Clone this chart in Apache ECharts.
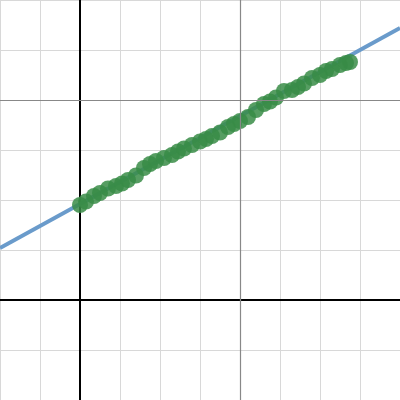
<!DOCTYPE html>
<html><head><meta charset="utf-8">
<script src="https://cdn.jsdelivr.net/npm/echarts@6/dist/echarts.min.js"></script>
<style>html,body{margin:0;padding:0;background:#fff}#c{width:400px;height:400px}</style>
</head><body><div id="c"></div>
<script>
var pointsX=[0,0.15,0.35,0.5,0.7,0.9,1.05,1.2,1.4,1.6,1.75,1.9,2.1,2.3,2.45,2.6,2.8,3.0,3.15,3.3,3.5,3.7,3.85,4.0,4.2,4.4,4.6,4.75,4.9,5.1,5.3,5.45,5.6,5.8,6.0,6.15,6.3,6.5,6.65,6.75];
var pointsY=[1.90,1.97,2.08,2.14,2.23,2.28,2.33,2.40,2.49,2.64,2.72,2.78,2.84,2.90,2.97,3.03,3.10,3.17,3.22,3.28,3.35,3.46,3.52,3.58,3.66,3.80,3.92,3.97,4.05,4.18,4.20,4.26,4.33,4.44,4.50,4.58,4.62,4.70,4.74,4.76];
var lineX=[-2,8];
var lineY=[1.04,5.44];
var chart=echarts.init(document.getElementById('c'));
chart.setOption({
  animation:false,
  grid:{left:0,right:0,top:0,bottom:0},
  xAxis:{type:'value',min:-2,max:8,interval:1,axisLabel:{show:false},axisTick:{show:false},
    axisLine:{onZero:true,lineStyle:{color:'#000',width:2}},
    splitLine:{lineStyle:{color:'#d8d8d8',width:1}}},
  yAxis:{type:'value',min:-2,max:6,interval:1,axisLabel:{show:false},axisTick:{show:false},
    axisLine:{onZero:true,lineStyle:{color:'#000',width:2}},
    splitLine:{lineStyle:{color:'#d8d8d8',width:1}}},
  series:[
    {type:'line',data:[],markLine:{silent:true,symbol:'none',label:{show:false},
      lineStyle:{color:'#888',type:'solid',width:1.2},
      data:[{xAxis:4},{yAxis:4}]}},
    {type:'line',data:lineX.map(function(x,i){return [x,lineY[i]];}),symbol:'none',
      lineStyle:{color:'#6a9bcb',width:4},z:3},
    {type:'scatter',data:pointsX.map(function(x,i){return [x,pointsY[i]];}),symbolSize:16,
      itemStyle:{color:'#388c46',opacity:0.85},z:4}
  ]
});
</script></body></html>
